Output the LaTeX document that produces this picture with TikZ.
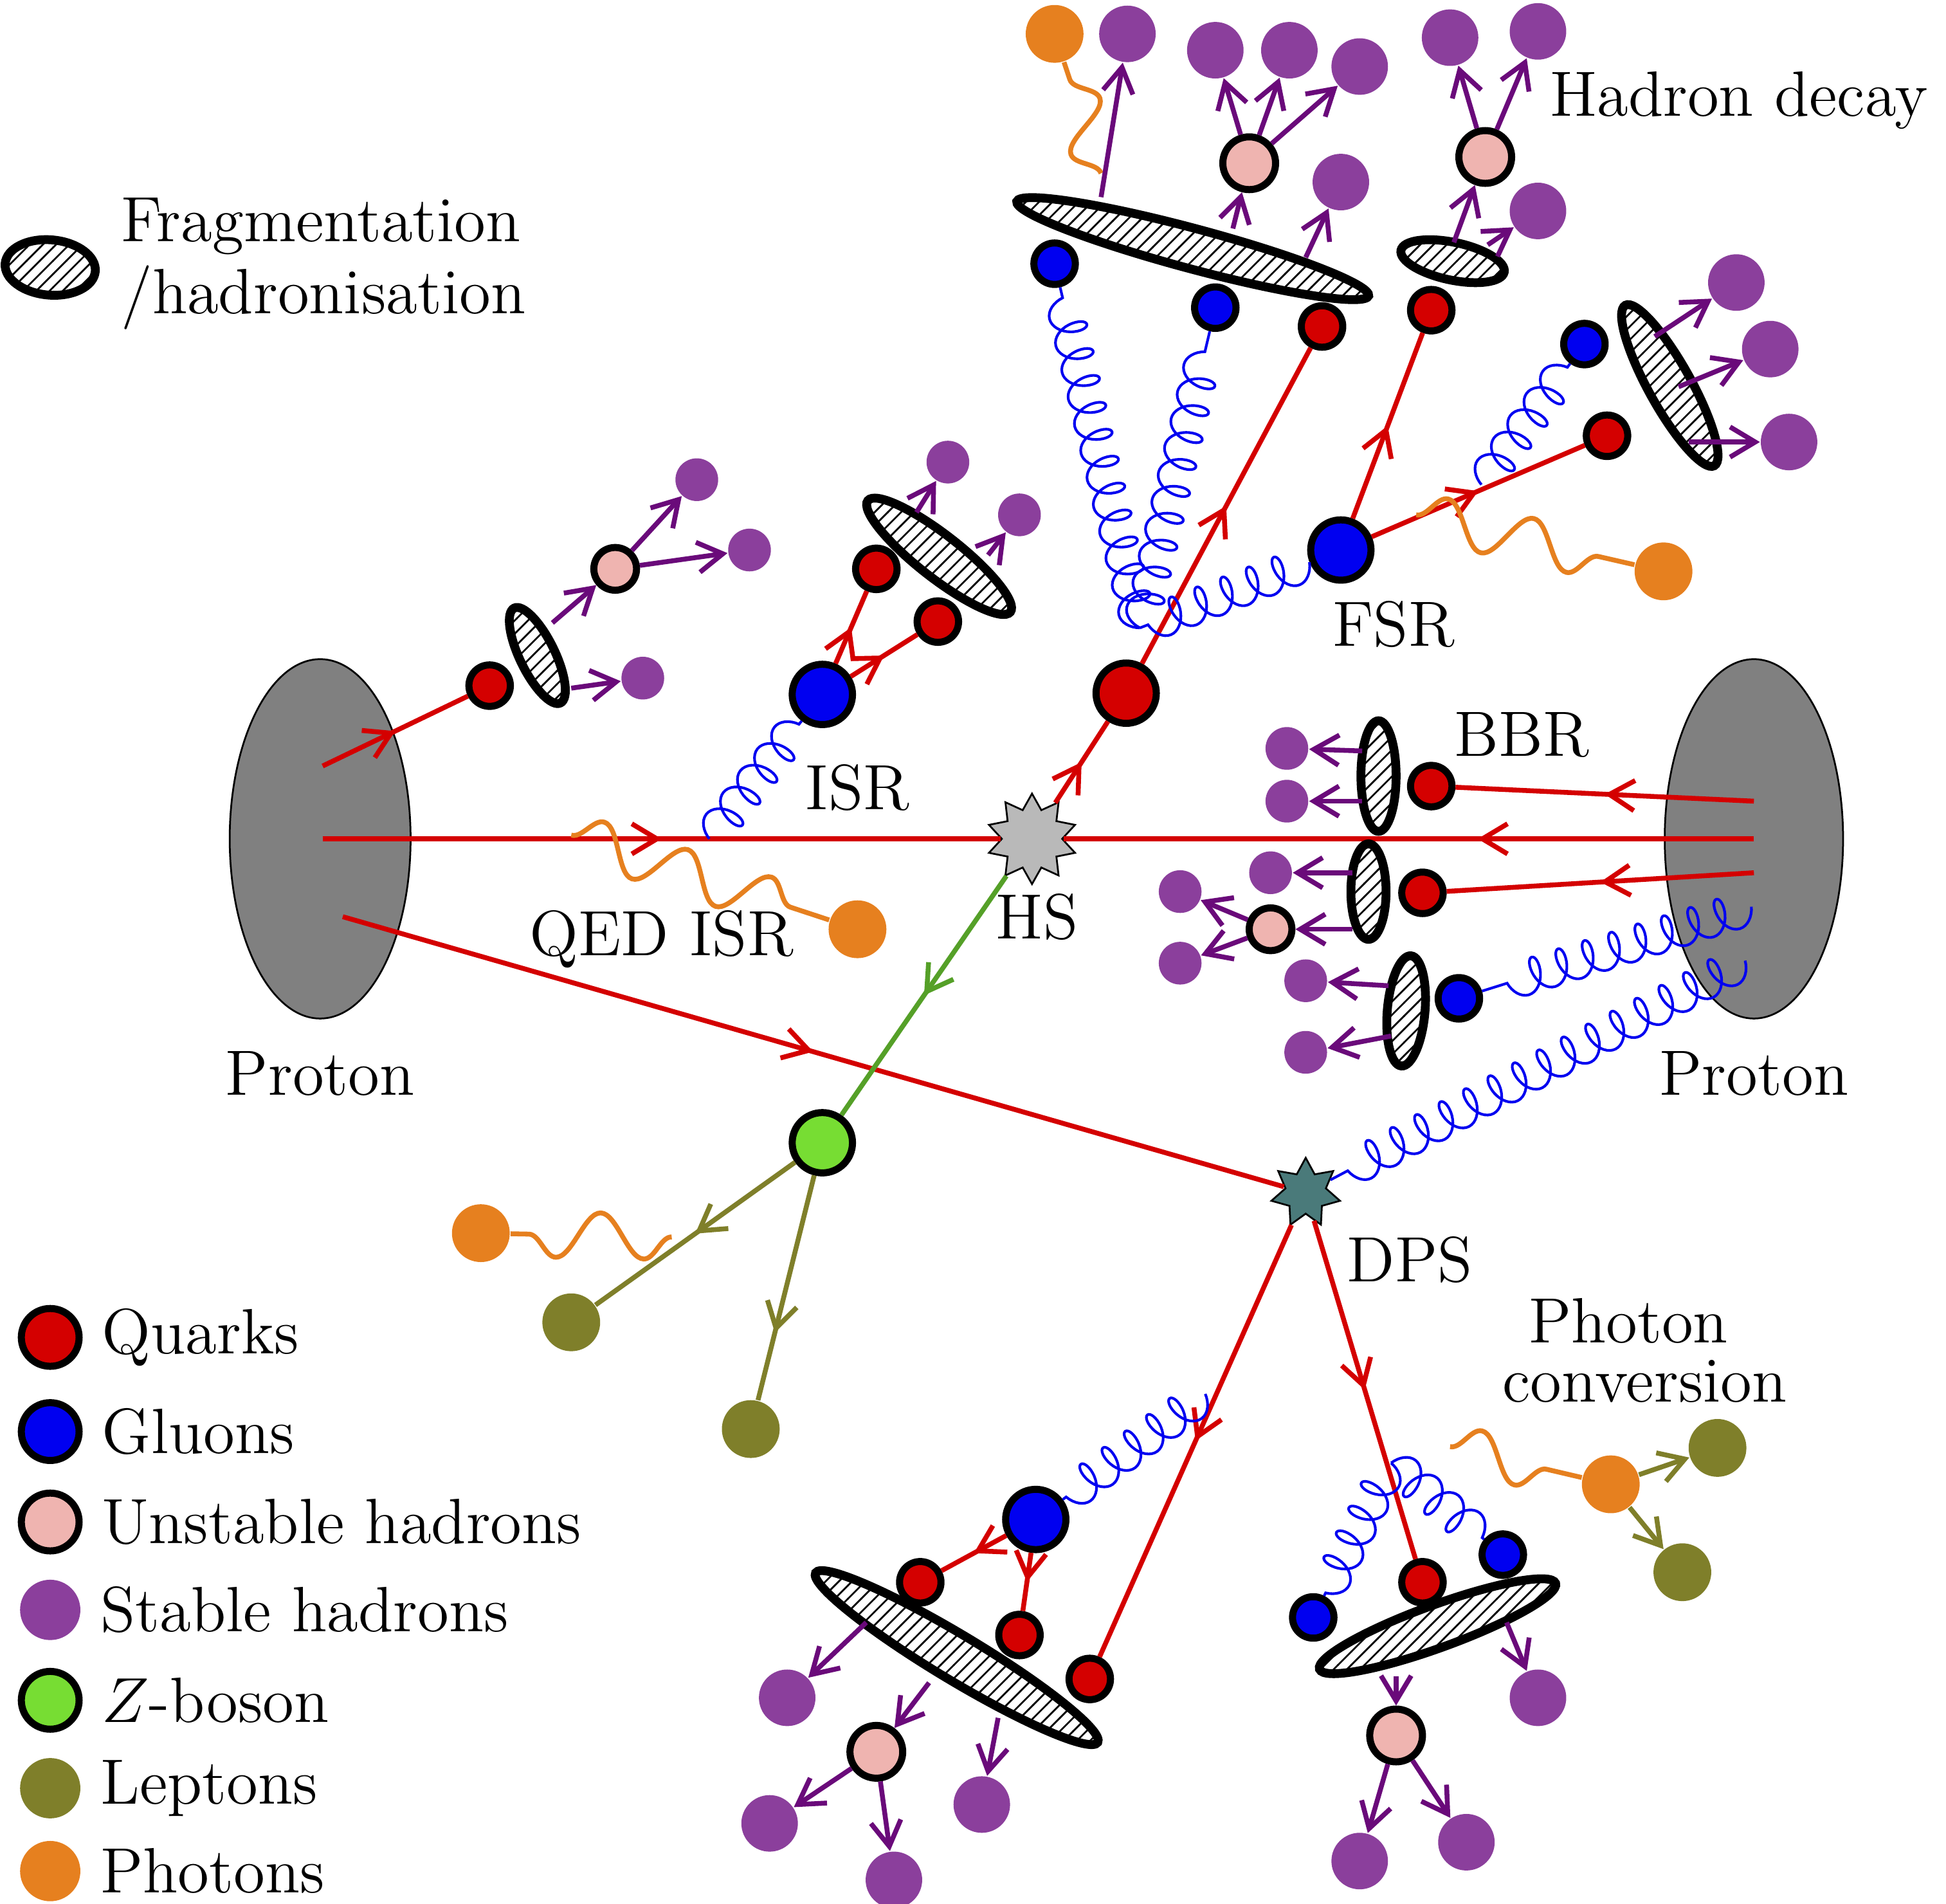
\documentclass[tikz,border=0pt]{standalone}
\usepackage{tikz}
\usetikzlibrary{shapes.geometric,decorations.pathmorphing,decorations.markings,arrows.meta,patterns}
\definecolor{qred}{HTML}{D40000}
\definecolor{gblue}{HTML}{0000F0}
\definecolor{uhp}{HTML}{EFB4B0}
\definecolor{shp}{HTML}{8B3F9C}
\definecolor{pho}{HTML}{E6801F}
\definecolor{lep}{HTML}{7F7F2A}
\definecolor{zgr}{HTML}{77DD33}
\definecolor{zln}{HTML}{55A028}
\definecolor{dps}{HTML}{4A7A7A}
\definecolor{dec}{HTML}{6A0A7A}
\tikzset{
 part/.style={circle,inner sep=0pt,draw=black,line width=1.6pt},
 q/.style={part,fill=qred,minimum size=0.33cm},
 Q/.style={part,fill=qred,minimum size=0.48cm},
 g/.style={part,fill=gblue,minimum size=0.33cm},
 G/.style={part,fill=gblue,minimum size=0.48cm},
 uh/.style={part,fill=uhp,minimum size=0.42cm},
 sh/.style={circle,inner sep=0pt,fill=shp,minimum size=0.45cm},
 ssh/.style={circle,inner sep=0pt,fill=shp,minimum size=0.34cm},
 ph/.style={circle,inner sep=0pt,fill=pho,minimum size=0.46cm},
 lp/.style={circle,inner sep=0pt,fill=lep,minimum size=0.46cm},
 zb/.style={part,fill=zgr,minimum size=0.48cm},
 frag/.style={ellipse,draw=black,line width=2pt,pattern=north east lines,inner sep=0pt},
 tip/.tip={Straight Barb[length=2mm,width=2.4mm]},
 mid/.style={postaction={decorate},decoration={markings,mark=at position #1 with {\arrow{tip}}}},
 mid/.default=0.5,
 ql/.style={draw=qred,line width=1.1pt},
 dl/.style={draw=dec,line width=1.1pt,-tip},
 ll/.style={draw=lep,line width=1.1pt},
 glu/.style={draw=gblue,line width=0.6pt,decorate,decoration={coil,amplitude=1.4mm,segment length=2.2mm,aspect=0.6}},
 phl/.style={draw=pho,line width=1.1pt,decorate,decoration={snake,amplitude=1.8mm,segment length=7mm}},
 lab/.style={font=\fontsize{14.5}{16}\selectfont},
}
\begin{document}
\begin{tikzpicture}[x=0.01cm,y=-0.01cm]
\useasboundingbox (0,0) rectangle (1550,1516);
% protons
\node[ellipse,draw=black,fill=gray,minimum width=1.44cm,minimum height=2.86cm] (pL) at (255,668) {};
\node[ellipse,draw=black,fill=gray,minimum width=1.42cm,minimum height=2.86cm] (pR) at (1397,668) {};
\node[lab] (tL) at (255,855) {Proton};
\node[lab] (tR) at (1397,855) {Proton};
\coordinate (l1) at (257,610); \coordinate (l2) at (257,668); \coordinate (l3) at (273,730);
\coordinate (r1) at (1397,638); \coordinate (r2) at (1397,668); \coordinate (r3) at (1397,695);
\coordinate (r4) at (1395,722); \coordinate (r5) at (1390,765);
% stars
\node[star,star points=10,star point ratio=1.5,draw=black,fill=gray!55,minimum size=0.72cm,inner sep=0pt] (HS) at (822,668) {};
\node[star,star points=7,star point ratio=1.7,draw=black,fill=dps,minimum size=0.56cm,inner sep=0pt] (DPS) at (1040,950) {};
\node[lab] at (826,730) {HS};
\node[lab] at (1123,1003) {DPS};
% main lines
\node[q] (lq) at (390,546) {};
\draw[ql,mid] (l1) -- (lq);
\draw[ql,mid=0.5] (l2) -- (HS);
\draw[ql,mid=0.5] (l3) -- (DPS);
\node[q] (bq1) at (1140,626) {};
\node[q] (bq2) at (1133,711) {};
\node[g] (bg1) at (1162,795) {};
\draw[ql,mid] (r1) -- (bq1);
\draw[ql,mid=0.4] (r2) -- (HS);
\draw[ql,mid] (r3) -- (bq2);
\draw[glu] (r4) -- (bg1);
\draw[glu] (r5) -- (DPS);
% HS outgoing
\node[Q] (hq) at (897,552) {};
\draw[ql,mid] (HS) -- (hq);
\node[q] (tq) at (1053,260) {};
\draw[ql,mid] (hq) -- (tq);
\node[g] (tg1) at (840,210) {};
\node[g] (tg2) at (968,245) {};
\coordinate (gs) at (908,500);
\draw[glu] (gs) -- (tg1);
\draw[glu] (gs) -- (tg2);
\node[G] (fg) at (1068,438) {};
\draw[glu] (fg) -- (gs);
\node[lab] at (1110,497) {FSR};
\node[frag,minimum width=2.9cm,minimum height=0.32cm,rotate=-15] (F1) at (950,198) {};
\node[ph] (p1) at (840,27) {};
\draw[phl] (877,138) -- (p1);
\node[sh] (s1) at (898,27) {};
\draw[dl] (877,157) -- (s1);
\node[uh] (u1) at (995,130) {};
\draw[dl] (982,182) -- (u1);
\node[sh] (s2) at (968,40) {};
\node[sh] (s3) at (1027,40) {};
\node[sh] (s4) at (1083,53) {};
\draw[dl] (u1) -- (s2); \draw[dl] (u1) -- (s3); \draw[dl] (u1) -- (s4);
\node[sh] (s5) at (1068,145) {};
\draw[dl] (1040,205) -- (s5);
\node[lab,anchor=east] at (1548,80) {Hadron decay};
% FSR
\node[q] (fq1) at (1140,247) {};
\node[q] (fq2) at (1280,347) {};
\draw[ql,mid] (fg) -- (fq1);
\draw[ql,mid] (fg) -- (fq2);
\node[g] (fg2) at (1262,274) {};
\draw[glu] (1180,386) -- (fg2);
\node[ph] (p2) at (1325,455) {};
\draw[phl] (1128,410) -- (p2);
\node[frag,minimum width=0.84cm,minimum height=0.3cm,rotate=-12] (F2) at (1157,208) {};
\node[uh] (u2) at (1183,125) {};
\node[sh] (s6) at (1155,30) {};
\node[sh] (s7) at (1225,25) {};
\node[sh] (s8) at (1225,168) {};
\draw[dl] (u2) -- (s6); \draw[dl] (u2) -- (s7);
\draw[dl] (1158,193) -- (u2);
\draw[dl] (1185,195) -- (s8);
\node[frag,minimum width=1.46cm,minimum height=0.34cm,rotate=-61] (F3) at (1330,307) {};
\node[sh] (s9) at (1383,225) {};
\node[sh] (s10) at (1410,278) {};
\node[sh] (s11) at (1425,352) {};
\draw[dl] (1318,268) -- (s9);
\draw[dl] (1337,308) -- (s10);
\draw[dl] (1345,352) -- (s11);
% ISR
\node[G] (ig) at (655,553) {};
\draw[glu] (565,668) -- (ig);
\node[lab] at (683,627) {ISR};
\node[q] (iq1) at (698,453) {};
\node[q] (iq2) at (747,495) {};
\draw[ql,mid] (ig) -- (iq1);
\draw[ql,mid] (ig) -- (iq2);
\node[frag,minimum width=1.44cm,minimum height=0.34cm,rotate=-38] (F4) at (748,443) {};
\node[ssh] (s12) at (755,368) {};
\node[ssh] (s13) at (812,410) {};
\draw[dl] (730,408) -- (s12);
\draw[dl] (787,442) -- (s13);
\node[ph] (p3) at (683,740) {};
\draw[phl] (455,665) -- (p3);
\node[lab] at (527,748) {QED ISR};
% left
\node[frag,minimum width=0.84cm,minimum height=0.28cm,rotate=-64] (F5) at (428,522) {};
\node[uh,minimum size=0.34cm] (u3) at (490,453) {};
\node[ssh] (s14) at (555,382) {};
\node[ssh] (s15) at (597,438) {};
\node[ssh] (s16) at (512,540) {};
\draw[dl] (440,496) -- (u3);
\draw[dl] (u3) -- (s14); \draw[dl] (u3) -- (s15);
\draw[dl] (455,548) -- (s16);
% BBR
\node[lab] at (1212,585) {BBR};
\node[frag,minimum width=0.28cm,minimum height=0.88cm] (F6) at (1098,618) {};
\node[ssh] (s17) at (1025,596) {};
\node[ssh] (s18) at (1025,638) {};
\draw[dl] (1085,598) -- (s17);
\draw[dl] (1085,638) -- (s18);
\node[frag,minimum width=0.28cm,minimum height=0.76cm] (F7) at (1090,710) {};
\node[ssh] (s19) at (1012,695) {};
\node[uh,minimum size=0.34cm] (u4) at (1012,740) {};
\node[ssh] (s20) at (940,710) {};
\node[ssh] (s21) at (940,767) {};
\draw[dl] (1077,695) -- (s19);
\draw[dl] (1077,740) -- (u4);
\draw[dl] (u4) -- (s20); \draw[dl] (u4) -- (s21);
\node[frag,minimum width=0.3cm,minimum height=0.88cm,rotate=-5] (F8) at (1120,805) {};
\node[ssh] (s22) at (1040,781) {};
\node[ssh] (s23) at (1040,838) {};
\draw[dl] (1106,785) -- (s22);
\draw[dl] (1108,825) -- (s23);
% Z
\node[zb] (Z) at (655,910) {};
\draw[draw=zln,line width=1.1pt,mid] (HS) -- (Z);
\node[lp] (L1) at (455,1053) {};
\node[lp] (L2) at (598,1138) {};
\draw[ll,mid] (Z) -- (L1);
\draw[ll,mid=0.7] (Z) -- (L2);
\node[ph] (p4) at (383,982) {};
\draw[phl] (535,985) -- (p4);
% DPS bottom left
\node[q] (dq1) at (868,1337) {};
\draw[ql,mid] (DPS) -- (dq1);
\node[G] (dg) at (825,1210) {};
\draw[glu] (960,1110) -- (dg);
\node[q] (dq2) at (733,1260) {};
\node[q] (dq3) at (812,1302) {};
\draw[ql,mid] (dg) -- (dq2);
\draw[ql,mid] (dg) -- (dq3);
\node[frag,minimum width=2.62cm,minimum height=0.36cm,rotate=-31] (F9) at (762,1320) {};
\node[sh] (s24) at (627,1352) {};
\node[uh] (u5) at (698,1395) {};
\node[sh] (s25) at (782,1437) {};
\node[sh] (s26) at (613,1452) {};
\node[sh] (s27) at (712,1497) {};
\draw[dl] (690,1292) -- (s24);
\draw[dl] (740,1340) -- (u5);
\draw[dl] (795,1368) -- (s25);
\draw[dl] (u5) -- (s26); \draw[dl] (u5) -- (s27);
% DPS bottom right
\node[q] (dq4) at (1133,1260) {};
\draw[ql,mid] (DPS) -- (dq4);
\node[g] (dg2) at (1197,1238) {};
\node[g] (dg3) at (1046,1288) {};
\coordinate (gs2) at (1108,1165);
\draw[glu] (gs2) -- (dg2);
\draw[glu] (gs2) -- (dg3);
\node[frag,minimum width=2cm,minimum height=0.34cm,rotate=20] (F10) at (1145,1295) {};
\node[uh] (u6) at (1112,1382) {};
\node[sh] (s28) at (1083,1482) {};
\node[sh] (s29) at (1168,1467) {};
\node[sh] (s30) at (1225,1352) {};
\draw[dl] (1112,1335) -- (u6);
\draw[dl] (u6) -- (s28); \draw[dl] (u6) -- (s29);
\draw[dl] (1200,1292) -- (s30);
% photon conversion
\node[lab] at (1297,1052) {Photon};
\node[lab] at (1310,1100) {conversion};
\node[ph] (p5) at (1283,1182) {};
\draw[phl] (1155,1152) -- (p5);
\node[lp] (L3) at (1368,1153) {};
\node[lp] (L4) at (1340,1252) {};
\draw[ll,-tip] (p5) -- (L3);
\draw[ll,-tip] (p5) -- (L4);
% legend
\node[frag,minimum width=0.72cm,minimum height=0.44cm,rotate=-5] (Lf) at (40,213) {};
\node[lab,anchor=west] at (84,180) {Fragmentation};
\node[lab,anchor=west] at (84,237) {/hadronisation};
\tikzset{kl/.style={lab,anchor=west,xshift=0.3mm}}
\node[q,minimum size=0.46cm] (k1) at (40,1065) {}; \node[kl] at (k1.east) {Quarks};
\node[g,minimum size=0.46cm] (k2) at (40,1140) {}; \node[kl] at (k2.east) {Gluons};
\node[uh,minimum size=0.46cm] (k3) at (40,1212) {}; \node[kl] at (k3.east) {Unstable hadrons};
\node[sh,minimum size=0.48cm] (k4) at (40,1282) {}; \node[kl] at (k4.east) {Stable hadrons};
\node[zb,minimum size=0.46cm] (k5) at (40,1354) {}; \node[kl] at (k5.east) {$Z$-boson};
\node[lp,minimum size=0.48cm] (k6) at (40,1424) {}; \node[kl] at (k6.east) {Leptons};
\node[ph,minimum size=0.48cm] (k7) at (40,1490) {}; \node[kl] at (k7.east) {Photons};
\end{tikzpicture}
\end{document}
